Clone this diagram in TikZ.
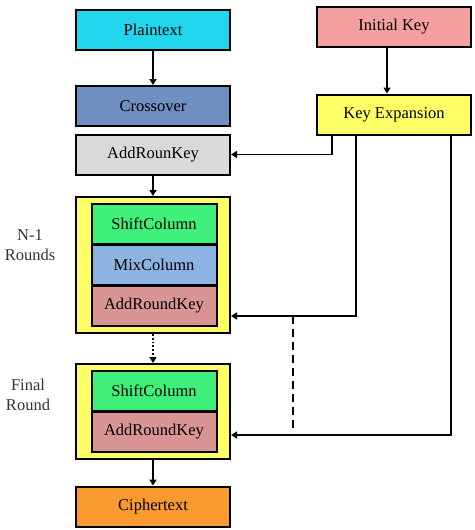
\documentclass[tikz,border=0pt]{standalone}
\usepackage{fontspec}
\setmainfont{Liberation Serif}
\usetikzlibrary{arrows.meta}
\definecolor{plaincol}{HTML}{22D6EE}
\definecolor{initcol}{HTML}{F5A0A0}
\definecolor{crosscol}{HTML}{6E8FC0}
\definecolor{keycol}{HTML}{FFFF66}
\definecolor{graycol}{HTML}{D9D9D9}
\definecolor{shiftcol}{HTML}{3EF07A}
\definecolor{mixcol}{HTML}{8DB3E2}
\definecolor{addcol}{HTML}{D99594}
\definecolor{ciphcol}{HTML}{F89A30}
\begin{document}
\begin{tikzpicture}[x=1pt,y=-1pt,
    box/.style={draw,line width=2pt,minimum width=154pt,minimum height=40pt,
      inner sep=0pt,font=\fontsize{16.5}{18}\selectfont},
    inbox/.style={box,minimum width=125pt},
    flow/.style={line width=1.8pt,-{Triangle[length=6pt,width=7pt]}},
    lbl/.style={align=center,text=black!80,font=\fontsize{16.5}{20}\selectfont}]
  \useasboundingbox (0,0) rectangle (474,530);
  % left column
  \node[box,fill=plaincol] (plain) at (153,30) {Plaintext};
  \node[box,fill=crosscol] (cross) at (153,106) {Crossover};
  \node[box,fill=graycol] (addkey) at (153,154.5) {AddRounKey};
  \node[box,fill=keycol,minimum height=136pt] (round) at (153,265) {};
  \node[inbox,fill=shiftcol] (shift1) at (154,223.5) {ShiftColumn};
  \node[inbox,fill=mixcol] (mix1) at (154,264.5) {MixColumn};
  \node[inbox,fill=addcol] (add1) at (154,305.5) {AddRoundKey};
  \node[box,fill=keycol,minimum height=95pt] (final) at (153,411.5) {};
  \node[inbox,fill=shiftcol] (shift2) at (154,390.5) {ShiftColumn};
  \node[inbox,fill=addcol] (add2) at (154,431.5) {AddRoundKey};
  \node[box,fill=ciphcol] (cipher) at (153,506.5) {Ciphertext};
  % right column
  \node[box,fill=initcol] (init) at (394,27) {Initial Key};
  \node[box,fill=keycol] (keyexp) at (394,114.5) {Key Expansion};
  % labels
  \node[lbl] (nlbl) at (30,245) {N-1\\Rounds};
  \node[lbl] (flbl) at (28,395) {Final\\Round};
  \coordinate (dtop) at (293,316);
  \coordinate (dbot) at (293,430);
  \begin{scope}[flow]
    \draw (plain) -- (cross);
    \draw ([xshift=-7pt]init.south) -- ([xshift=-7pt]keyexp.north);
    \draw (addkey) -- (round);
    \draw[dotted] (round) -- (final);
    \draw (final) -- (cipher);
    \draw ([xshift=-62pt]keyexp.south) |- (addkey.east);
    \draw ([xshift=-38pt]keyexp.south) |- ([yshift=-51pt]round.east);
    \draw ([xshift=57pt]keyexp.south) |- ([yshift=-23.5pt]final.east);
  \end{scope}
  \draw[line width=2pt,dash pattern=on 8pt off 5pt] (dtop) -- (dbot);
\end{tikzpicture}
\end{document}
